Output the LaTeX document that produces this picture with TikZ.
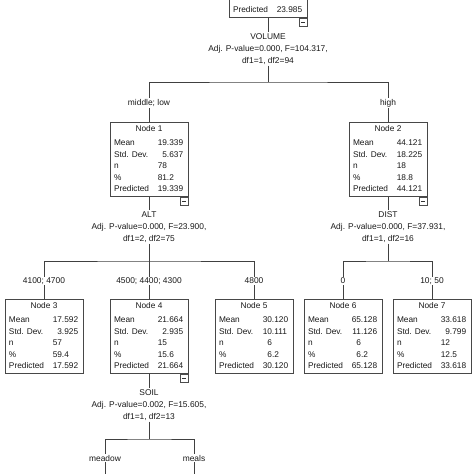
\documentclass[tikz,border=0pt]{standalone}
\usepackage{fontspec}
\setmainfont{Liberation Sans}
\usepackage{array}
\newcommand{\boxtab}[8]{%
\begin{tabular}{@{}p{36pt}@{}>{\raggedleft\arraybackslash}p{17pt}@{}>{\raggedright\arraybackslash}p{17pt}@{}}
\multicolumn{3}{@{}c@{}}{#1}\\[2.5pt]
Mean & #2 & #3\\
Std. Dev. & #4 & #5\\
n & #6 & \\
\% & #7 & #8\\
Predicted & #2 & #3
\end{tabular}}
\tikzset{
  tbox/.style={draw=black!72, line width=0.75pt, fill=white, inner xsep=4pt, inner ysep=1.25pt,
    font=\fontsize{8.3}{11.5}\selectfont, text=black!90},
  splitinfo/.style={align=center, inner sep=1pt, font=\fontsize{8.4}{12}\selectfont, text=black!90},
  lbl/.style={fill=white, inner sep=1pt, font=\fontsize{8.4}{10}\selectfont, text=black!90},
  edge/.style={draw=black!75, line width=0.7pt},
  mbox/.style={draw=black!70, line width=0.6pt, fill=white, minimum size=8pt, inner sep=0pt,
    path picture={\draw[black!80, line width=0.7pt] ([xshift=1.8pt]path picture bounding box.west) -- ([xshift=-1.8pt]path picture bounding box.east);}}
}
\begin{document}
\begin{tikzpicture}[x=1pt, y=-1pt]
\useasboundingbox (0,0) rectangle (474,474);
\clip (0,0) rectangle (474,474);
% boxes
\node[tbox, anchor=south, text height=50pt, text depth=3.45pt] (n0) at (268,18)
  {\begin{tabular}[b]{@{}p{36pt}@{}>{\raggedleft\arraybackslash}p{17pt}@{}>{\raggedright\arraybackslash}p{17pt}@{}}Predicted & 23 & .985\end{tabular}};
\node[tbox, anchor=north] (n1) at (149,122) {\boxtab{Node 1}{19}{.339}{5}{.637}{78}{81}{.2}};
\node[tbox, anchor=north] (n2) at (388,122) {\boxtab{Node 2}{44}{.121}{18}{.225}{18}{18}{.8}};
\node[tbox, anchor=north] (n3) at (44,299) {\boxtab{Node 3}{17}{.592}{3}{.925}{57}{59}{.4}};
\node[tbox, anchor=north] (n4) at (149,299) {\boxtab{Node 4}{21}{.664}{2}{.935}{15}{15}{.6}};
\node[tbox, anchor=north] (n5) at (254,299) {\boxtab{Node 5}{30}{.120}{10}{.111}{6}{6}{.2}};
\node[tbox, anchor=north] (n6) at (343,299) {\boxtab{Node 6}{65}{.128}{11}{.126}{6}{6}{.2}};
\node[tbox, anchor=north] (n7) at (432,299) {\boxtab{Node 7}{33}{.618}{9}{.799}{12}{12}{.5}};
% split information
\node[splitinfo] (s0) at (268,49) {VOLUME\\Adj. P-value=0.000, F=104.317,\\df1=1, df2=94};
\node[splitinfo] (s1) at (149,227) {ALT\\Adj. P-value=0.000, F=23.900,\\df1=2, df2=75};
\node[splitinfo] (s2) at (388,227) {DIST\\Adj. P-value=0.000, F=37.931,\\df1=1, df2=16};
\node[splitinfo] (s4) at (149,405) {SOIL\\Adj. P-value=0.002, F=15.605,\\df1=1, df2=13};
% junction coordinates
\coordinate (h0) at (268,82);
\coordinate (h1) at (149,261);
\coordinate (h2) at (388,261);
\coordinate (h4) at (149,439);
\coordinate (c8) at (105,480);
\coordinate (c9) at (194,480);
% connectors
\draw[edge] (n0.south) -- (s0.north);
\draw[edge] (s0.south) -- (h0);
\draw[edge] (n1.north) |- (h0) -| (n2.north);
\draw[edge] (n1.south) -- (s1.north);
\draw[edge] (s1.south) -- (n4.north);
\draw[edge] (n3.north) |- (h1) -| (n5.north);
\draw[edge] (n2.south) -- (s2.north);
\draw[edge] (s2.south) -- (h2);
\draw[edge] (n6.north) |- (h2) -| (n7.north);
\draw[edge] (n4.south) -- (s4.north);
\draw[edge] (s4.south) -- (h4);
\draw[edge] (c8) |- (h4) -| (c9);
% branch labels
\node[lbl] (l1) at (149,103) {middle; low};
\node[lbl] (l2) at (388,103) {high};
\node[lbl] (l3) at (44,281) {4100; 4700};
\node[lbl] (l4) at (149,281) {4500; 4400; 4300};
\node[lbl] (l5) at (254,281) {4800};
\node[lbl] (l6) at (343,281) {0};
\node[lbl] (l7) at (432,281) {10; 50};
\node[lbl] (l8) at (105,458) {meadow};
\node[lbl] (l9) at (194,458) {meals};
% collapse boxes
\node[mbox, anchor=north east] (m0) at (n0.south east) {};
\node[mbox, anchor=north east] (m1) at (n1.south east) {};
\node[mbox, anchor=north east] (m2) at (n2.south east) {};
\node[mbox, anchor=north east] (m4) at (n4.south east) {};
\end{tikzpicture}
\end{document}
